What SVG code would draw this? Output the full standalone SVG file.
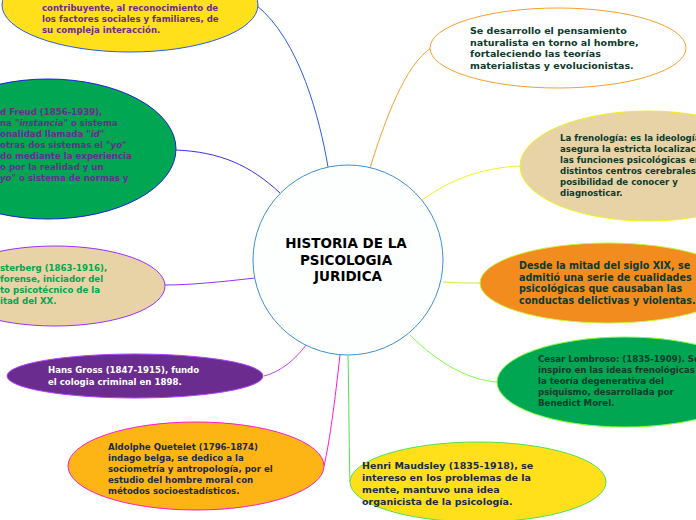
<svg xmlns="http://www.w3.org/2000/svg" width="696" height="520" viewBox="0 0 696 520">
<style>
text{font-family:"DejaVu Sans",Verdana,sans-serif;font-weight:bold;font-size:8.6px}
.c{fill:none;stroke-width:1}
.t{font-size:13.5px}
</style>
<rect width="696" height="520" fill="#fff"/>
<g id="connectors">
<path class="c" stroke="#2b5bf0" d="M328,167 C320,120 300,40 256,5"/>
<path class="c" stroke="#3a2ef0" d="M280,193 C250,165 220,152 176,150"/>
<path class="c" stroke="#9b30ff" d="M255,278 C220,282 190,285 164,285"/>
<path class="c" stroke="#c040ff" d="M306,345 C295,360 280,372 264,376"/>
<path class="c" stroke="#ff1cc8" d="M340,355 C335,400 330,440 324,466"/>
<path class="c" stroke="#50e050" d="M348,356 C349,400 349,450 350,482"/>
<path class="c" stroke="#f7a030" d="M370,168 C385,120 405,65 431,48"/>
<path class="c" stroke="#f0f020" d="M422,200 C450,180 480,168 520,166"/>
<path class="c" stroke="#c8f040" d="M443,282 C455,283 467,283 480,283"/>
<path class="c" stroke="#80ff40" d="M410,335 C440,365 470,380 497,382"/>
</g>
<g id="center">
<circle cx="348" cy="260" r="95" fill="#fdfefe" stroke="#3b8fd4"/>
<text x="346" y="248" text-anchor="middle" class="t" fill="#000">HISTORIA DE LA</text>
<text x="346" y="265" text-anchor="middle" class="t" fill="#000">PSICOLOGIA</text>
<text x="348" y="281" text-anchor="middle" class="t" fill="#000">JURIDICA</text>
</g>
<g id="n1" fill="#6a2d8f">
<ellipse cx="130" cy="5" rx="128" ry="47" fill="#ffe01b" stroke="#2b5bf0"/>
<text x="42" y="11">contribuyente, al reconocimiento de</text>
<text x="42" y="22">los factores sociales y familiares, de</text>
<text x="42" y="33">su compleja interacción.</text>
</g>
<g id="n2" fill="#6a2d8f">
<ellipse cx="48" cy="149" rx="128" ry="70" fill="#00a651" stroke="#2020e0"/>
<text x="0" y="115">d Freud (1856-1939),</text>
<text x="0" y="126">na "<tspan font-style="italic">instancia</tspan>" o sistema</text>
<text x="0" y="137">onalidad llamada "<tspan font-style="italic">id</tspan>"</text>
<text x="0" y="148"> otras dos sistemas el "<tspan font-style="italic">yo</tspan>"</text>
<text x="0" y="159">do mediante la experiencia</text>
<text x="0" y="170">o por la realidad y un</text>
<text x="0" y="181"><tspan font-style="italic">yo</tspan>" o sistema de normas y</text>
</g>
<g id="n3" fill="#00a651">
<ellipse cx="55" cy="286" rx="110" ry="40" fill="#e8d3a6" stroke="#9b30ff"/>
<text x="0" y="271">sterberg (1863-1916),</text>
<text x="0" y="282">forense, iniciador del</text>
<text x="0" y="293">to psicotécnico de la</text>
<text x="0" y="304">itad del XX.</text>
</g>
<g id="n4" fill="#fff">
<ellipse cx="135" cy="376" rx="128" ry="22" fill="#6a2d8f" stroke="#b040ff"/>
<text x="48" y="373">Hans Gross (1847-1915), fundo</text>
<text x="48" y="385">el cologia criminal en 1898.</text>
</g>
<g id="n5" fill="#1a2a4a">
<ellipse cx="196" cy="466" rx="128" ry="44" fill="#fdb515" stroke="#ff1cc8"/>
<text x="108" y="450">Aldolphe Quetelet (1796-1874)</text>
<text x="108" y="461">indago belga, se dedico a la</text>
<text x="108" y="472">sociometría y antropología, por el</text>
<text x="108" y="483">estudio del hombre moral con</text>
<text x="108" y="494">métodos socioestadísticos.</text>
</g>
<g id="n6" fill="#1a2a4a">
<ellipse cx="478" cy="482" rx="128" ry="40" fill="#ffe01b" stroke="#50e050"/>
<text x="362" y="469" style="font-size:9.5px">Henri Maudsley (1835-1918), se</text>
<text x="362" y="481" style="font-size:9.5px">intereso en los problemas de la</text>
<text x="362" y="493" style="font-size:9.5px">mente, mantuvo una idea</text>
<text x="362" y="505" style="font-size:9.5px">organicista de  la psicología.</text>
</g>
<g id="n7" fill="#0d3b2e">
<ellipse cx="558" cy="48" rx="128" ry="40" fill="#fff" stroke="#f7a030"/>
<text x="470" y="34" style="font-size:9.5px">Se desarrollo el pensamiento</text>
<text x="470" y="46" style="font-size:9.5px">naturalista en torno al hombre,</text>
<text x="470" y="57" style="font-size:9.5px">fortaleciendo las teorías</text>
<text x="470" y="69" style="font-size:9.5px">materialistas y evolucionistas.</text>
</g>
<g id="n8" fill="#0d3b2e">
<ellipse cx="648" cy="166" rx="128" ry="55" fill="#e8d3a6" stroke="#f0f020"/>
<text x="560" y="141">La frenología: es la ideología que</text>
<text x="560" y="152">asegura la estricta localización de</text>
<text x="560" y="163">las funciones psicológicas en</text>
<text x="560" y="174">distintos centros cerebrales y la</text>
<text x="560" y="185">posibilidad de conocer y</text>
<text x="560" y="196">diagnosticar.</text>
</g>
<g id="n9" fill="#0d3b2e">
<ellipse cx="608" cy="283" rx="128" ry="40" fill="#f28c1e" stroke="#c8f040"/>
<text x="519" y="269" style="font-size:9.6px">Desde la mitad del siglo XIX, se</text>
<text x="519" y="281" style="font-size:9.6px">admitió una serie de cualidades</text>
<text x="519" y="292" style="font-size:9.6px">psicológicas  que causaban las</text>
<text x="519" y="304" style="font-size:9.6px">conductas delictivas y violentas.</text>
</g>
<g id="n10" fill="#0d3b2e">
<ellipse cx="625" cy="382" rx="128" ry="45" fill="#00a651" stroke="#80ff40"/>
<text x="538" y="362">Cesar Lombroso:  (1835-1909). Se</text>
<text x="538" y="373">inspiro en las ideas frenológicas y</text>
<text x="538" y="384">la teoría degenerativa del</text>
<text x="538" y="395">psiquismo, desarrollada por</text>
<text x="538" y="406">Benedict Morel.</text>
</g>
</svg>
